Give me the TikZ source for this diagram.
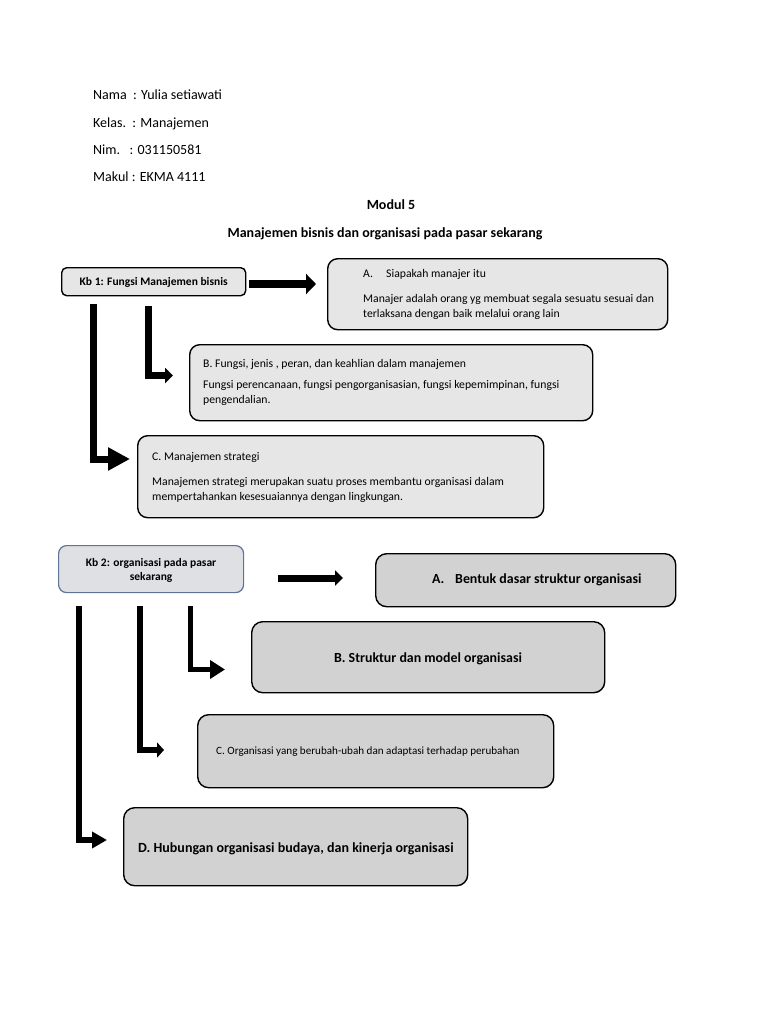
\documentclass[tikz,border=0pt]{standalone}
\usepackage{fontspec}
\setmainfont{Carlito}
\usetikzlibrary{arrows.meta}
\definecolor{boxlight}{HTML}{E6E6E6}
\definecolor{boxdark}{HTML}{D2D2D2}
\definecolor{kbtwofill}{HTML}{DEE0E4}
\definecolor{kbtwoline}{HTML}{5E7395}
\newcommand{\fs}[1]{\fontsize{#1}{#1}\selectfont}
\tikzset{
  lbox/.style={draw=black, line width=1.4pt, fill=boxlight, rounded corners=10pt, anchor=north west, inner sep=0pt},
  dbox/.style={draw=black, line width=1.4pt, fill=boxdark, rounded corners=11pt, anchor=north west, inner sep=0pt},
  txt/.style={anchor=base west, inner sep=0pt, text=black},
  ctxt/.style={anchor=base, inner sep=0pt, text=black},
  conn/.style={draw=black, line join=miter}
}
\begin{document}
\begin{tikzpicture}[x=1pt,y=-1pt]
\fill[white] (0,0) rectangle (768,1024);
\useasboundingbox (0,0) rectangle (768,1024);

% header
\node[txt] (nama) at (93,100) {\fs{14}Nama\ \ : Yulia setiawati};
\node[txt] (kelas) at (93,128) {\fs{14}Kelas.\ \ : Manajemen};
\node[txt] (nim) at (93,155) {\fs{14}Nim.\ \ \ : 031150581};
\node[txt] (makul) at (93,182) {\fs{14}Makul : EKMA 4111};
\node[ctxt] (modul) at (391,210) {\fs{14}\bfseries Modul 5};
\node[ctxt] (judul) at (385,237) {\fs{14}\bfseries Manajemen bisnis dan organisasi pada pasar sekarang};

% Kb 1
\node[lbox, rounded corners=5pt, minimum width=184pt, minimum height=28pt] (kb1) at (61,267) {};
\node[ctxt] (kb1t) at (kb1.center |- 0,285) {\fs{11.5}\bfseries Kb 1: Fungsi Manajemen bisnis};

\node[lbox, minimum width=340pt, minimum height=71pt] (bA) at (327,258) {};
\node[txt] (bAh) at (363,277) {\fs{11.7}A.};
\node[txt] (bAh2) at (386,277) {\fs{11.7}Siapakah manajer itu};
\node[txt] (bAb1) at (363,302) {\fs{11.7}Manajer adalah orang yg membuat segala sesuatu sesuai dan};
\node[txt] (bAb2) at (363,317) {\fs{11.7}terlaksana dengan baik melalui orang lain};

\node[lbox, minimum width=403pt, minimum height=76pt] (bB) at (189,344) {};
\node[txt] (bBh) at (203,367) {\fs{11.7}B. Fungsi, jenis , peran, dan keahlian dalam manajemen};
\node[txt] (bBb1) at (203,388) {\fs{11.7}Fungsi perencanaan, fungsi pengorganisasian, fungsi kepemimpinan, fungsi};
\node[txt] (bBb2) at (203,403) {\fs{11.7}pengendalian.};

\node[lbox, minimum width=406pt, minimum height=82pt] (bC) at (137,435) {};
\node[txt] (bCh) at (152,460) {\fs{11.7}C. Manajemen strategi};
\node[txt] (bCb1) at (152,485) {\fs{11.7}Manajemen strategi merupakan suatu proses membantu organisasi dalam};
\node[txt] (bCb2) at (152,500) {\fs{11.7}mempertahankan kesesuaiannya dengan lingkungan.};

\draw[conn, line width=8pt, -{Triangle[length=10pt,width=20pt]}, shorten <=3pt, shorten >=11pt]
  (kb1.east |- 0,284) -- (bA.west |- 0,284);
\draw[conn, line width=7pt, -{Triangle[length=8pt,width=15pt]}, shorten <=10pt, shorten >=16pt]
  ([xshift=87.5pt]kb1.south west) |- (bB.west |- 0,375.5);
\draw[conn, line width=7pt, -{Triangle[length=22pt,width=22pt]}, shorten <=8pt, shorten >=7pt]
  ([xshift=32pt]kb1.south west) |- (bC.west |- 0,459);

% Kb 2
\node[draw=kbtwoline, line width=1.2pt, fill=kbtwofill, rounded corners=8pt, anchor=north west, inner sep=0pt, minimum width=185pt, minimum height=47pt] (kb2) at (58,545) {};
\node[ctxt] (kb2t1) at (kb2.center |- 0,566) {\fs{11.5}\bfseries Kb 2: organisasi pada pasar};
\node[ctxt] (kb2t2) at (kb2.center |- 0,580) {\fs{11.5}\bfseries sekarang};

\node[dbox, minimum width=300pt, minimum height=53pt] (dA) at (375,553) {};
\node[txt] (dAt1) at (432,583) {\fs{13.9}\bfseries A.};
\node[txt] (dAt2) at (455,583) {\fs{13.9}\bfseries Bentuk dasar struktur organisasi};

\node[dbox, minimum width=353pt, minimum height=71pt] (dB) at (251,621) {};
\node[ctxt] (dBt) at (428,662) {\fs{13.9}\bfseries B. Struktur dan model organisasi};

\node[dbox, minimum width=356pt, minimum height=73pt] (dC) at (197,714) {};
\node[txt] (dCt) at (216,754) {\fs{11.1}C. Organisasi yang berubah-ubah dan adaptasi terhadap perubahan};

\node[dbox, minimum width=344pt, minimum height=78pt] (dD) at (123,807) {};
\node[txt] (dDt) at (138,852) {\fs{14}\bfseries D. Hubungan organisasi budaya, dan kinerja organisasi};

\draw[conn, line width=7pt, -{Triangle[length=8pt,width=15pt]}, shorten <=34pt, shorten >=32pt]
  (kb2.east |- 0,578) -- (dA.west |- 0,578);
\draw[conn, line width=5pt, -{Triangle[length=15pt,width=18pt]}, shorten <=13pt, shorten >=26pt]
  ([xshift=132.5pt]kb2.south west) |- (dB.west |- 0,669.5);
\draw[conn, line width=6.5pt, -{Triangle[length=7pt,width=15pt]}, shorten <=13pt, shorten >=33pt]
  ([xshift=82pt]kb2.south west) |- (dC.west |- 0,750);
\draw[conn, line width=5.5pt, -{Triangle[length=15pt,width=16pt]}, shorten <=13pt, shorten >=16pt]
  ([xshift=21pt]kb2.south west) |- (dD.west |- 0,840);
\end{tikzpicture}
\end{document}
